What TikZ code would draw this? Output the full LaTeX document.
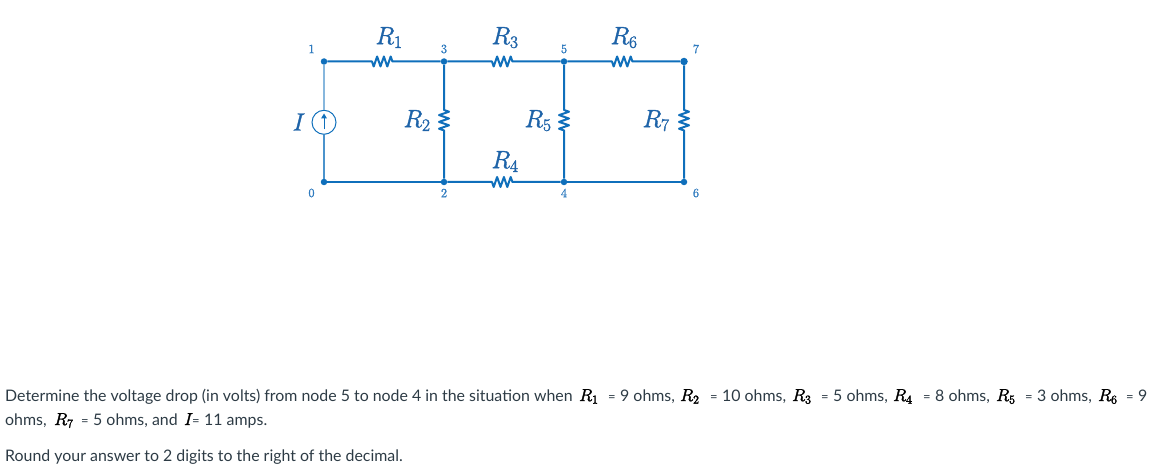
\documentclass[tikz,border=0pt]{standalone}
\usepackage{fontspec}
\newfontfamily\lato{Lato}
\usetikzlibrary{calc}
\definecolor{wireblue}{HTML}{0F6FBB}
\definecolor{labelblue}{HTML}{1E63A8}
\definecolor{numblue}{HTML}{2F7BBF}
\definecolor{txt}{HTML}{2D3B45}
\newcommand{\zigH}{-- ++(1.7,5) -- ++(3.4,-10) -- ++(3.4,10) -- ++(3.4,-10) -- ++(3.4,10) -- ++(3.4,-10) -- ++(1.7,5)}
\newcommand{\zigV}{-- ++(5,1.7) -- ++(-10,3.4) -- ++(10,3.4) -- ++(-10,3.4) -- ++(10,3.4) -- ++(-10,3.4) -- ++(5,1.7)}
\newcommand{\heavytext}[1]{\special{pdf:code 2 Tr #1 w}}
\tikzset{x=1pt,y=-1pt,
  wire/.style={draw=wireblue,line width=2pt,line join=round},
  dot/.style={circle,fill=wireblue,inner sep=0pt,minimum size=6.5pt},
  rlabel/.style={text=labelblue,inner sep=0pt,font=\fontsize{26.5}{30}\selectfont\heavytext{0.35}},
  numlabel/.style={text=numblue,inner sep=0pt,font=\fontsize{12.5}{14}\selectfont\heavytext{0.2}},
  body/.style={anchor=base west,inner sep=0pt,text=txt,font=\lato\fontsize{15.9}{18}\selectfont},
  mathbit/.style={anchor=base west,inner sep=0pt,text=black,font=\fontsize{18}{20}\selectfont\heavytext{0.35}},
  eq/.style={anchor=base west,inner sep=0pt,text=txt,font=\lato\fontsize{13}{14}\selectfont}}
\begin{document}
\begin{tikzpicture}
\useasboundingbox (0,0) rectangle (1165,468);
% nodes
\node[dot] (n1) at (324,61.5) {};
\node[dot] (n3) at (444,61.5) {};
\node[dot] (n5) at (564,61.5) {};
\node[dot,minimum size=7.5pt] (n7) at (684,61.5) {};
\node[dot] (n0) at (324,182) {};
\node[dot] (n2) at (444,182) {};
\node[dot] (n4) at (564,182) {};
\node[dot] (n6) at (684,182) {};
\coordinate (r1) at (372,61.5);
\coordinate (r3) at (492,61.5);
\coordinate (r6) at (612,61.5);
\coordinate (r4) at (492,182);
\coordinate (r2) at (444,110);
\coordinate (r5) at (564,110);
\coordinate (r7) at (684,110);
% wires with resistors
\draw[wire] (n1) -- (r1) \zigH -- (n3);
\draw[wire] (n3) -- (r3) \zigH -- (n5);
\draw[wire] (n5) -- (r6) \zigH -- (n7);
\draw[wire] (n0) -- (n2);
\draw[wire] (n2) -- (r4) \zigH -- (n4);
\draw[wire] (n4) -- (n6);
\draw[wire] (n3) -- (r2) \zigV -- (n2);
\draw[wire] (n5) -- (r5) \zigV -- (n4);
\draw[wire] (n7) -- (r7) \zigV -- (n6);
% current source
\node[circle,draw=wireblue,line width=1pt,minimum size=24pt,inner sep=0pt] (src) at (324,122.3) {};
\draw[line width=2pt,draw=wireblue!50] (n1) -- (src);
\draw[line width=2pt,draw=wireblue!75] (src) -- (n0);
\coordinate (at) at (324,129.5);
\coordinate (ah) at (324,117.5);
\draw[draw=wireblue,line width=0.8pt] (at) -- (ah);
\fill[wireblue] (324,113.5) -- (327,118.5) -- (321,118.5) -- cycle;
% component labels
\node[rlabel] (l1) at (389,37.5) {$R_1$};
\node[rlabel] (l3) at (505,37.5) {$R_3$};
\node[rlabel] (l6) at (624,37.5) {$R_6$};
\node[rlabel] (l2) at (417,120.5) {$R_2$};
\node[rlabel] (l5) at (538,120.5) {$R_5$};
\node[rlabel] (l7) at (656,120.5) {$R_7$};
\node[rlabel] (l4) at (505,161.5) {$R_4$};
\node[rlabel] (lI) at (299,122) {$I$};
% node numbers
\node[numlabel] (t1) at (311.5,49) {1};
\node[numlabel] (t3) at (444,49) {3};
\node[numlabel] (t5) at (564,49) {5};
\node[numlabel] (t7) at (696,49) {7};
\node[numlabel] (t0) at (311.5,193) {0};
\node[numlabel] (t2) at (444,193) {2};
\node[numlabel] (t4) at (564,193) {4};
\node[numlabel] (t6) at (696,193) {6};
% text
\node[body] (a0) at (5,401) {Determine the voltage drop (in volts) from node 5 to node 4 in the situation when};
\node[mathbit] (m1) at (579,401) {$R_1$};
\node[eq] (e1) at (608,401) {=};
\node[body] (a1) at (620,401) {9 ohms,};
\node[mathbit] (m2) at (680,401) {$R_2$};
\node[eq] (e2) at (710,401) {=};
\node[body] (a2) at (722,401) {10 ohms,};
\node[mathbit] (m3) at (792,401) {$R_3$};
\node[eq] (e3) at (821,401) {=};
\node[body] (a3) at (833,401) {5 ohms,};
\node[mathbit] (m4) at (893,401) {$R_4$};
\node[eq] (e4) at (923,401) {=};
\node[body] (a4) at (935,401) {8 ohms,};
\node[mathbit] (m5) at (996,401) {$R_5$};
\node[eq] (e5) at (1025,401) {=};
\node[body] (a5) at (1037,401) {3 ohms,};
\node[mathbit] (m6) at (1098,401) {$R_6$};
\node[eq] (e6) at (1126,401) {=};
\node[body] (a6) at (1138,401) {9};
\node[body] (b0) at (5,425) {ohms,};
\node[mathbit] (m7) at (54,425) {$R_7$};
\node[eq] (e7) at (81,425) {=};
\node[body] (b1) at (93,425) {5 ohms, and};
\node[mathbit] (mI) at (184,425) {$I$};
\node[eq] (e8) at (192,425) {=};
\node[body] (b2) at (204,425) {11 amps.};
\node[body] (c0) at (5,461) {Round your answer to 2 digits to the right of the decimal.};
\end{tikzpicture}
\end{document}
